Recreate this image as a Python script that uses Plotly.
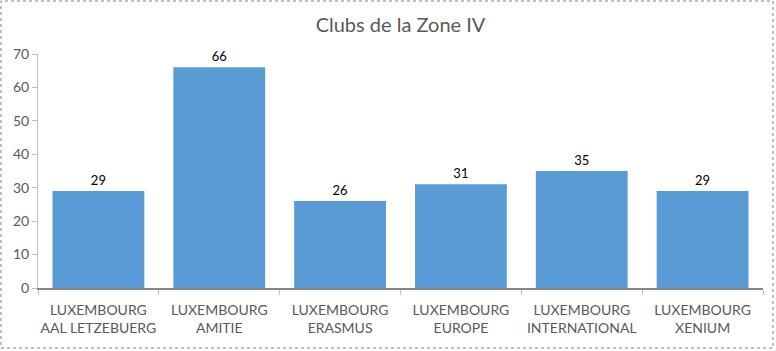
import plotly.graph_objects as go

categories = ["LUXEMBOURG<br>AAL LETZEBUERG", "LUXEMBOURG<br>AMITIE", "LUXEMBOURG<br>ERASMUS",
              "LUXEMBOURG<br>EUROPE", "LUXEMBOURG<br>INTERNATIONAL", "LUXEMBOURG<br>XENIUM"]
values = [29, 66, 26, 31, 35, 29]
title = "Clubs de la Zone IV"

W, H = 776, 351
ml, mr, mt, mb = 38, 13, 54, 63
pw, ph = W - ml - mr, H - mt - mb

fig = go.Figure(go.Bar(
    x=categories, y=values, marker=dict(color="#5B9BD5", line=dict(width=0)),
    text=values, textposition="outside", cliponaxis=False,
    textfont=dict(family="Lato, Open Sans, sans-serif", size=13, color="#000000"),
))

fig.update_layout(
    width=W, height=H, margin=dict(l=ml, r=mr, t=mt, b=mb, autoexpand=False),
    paper_bgcolor="white", plot_bgcolor="white", bargap=0.24, showlegend=False,
    title=dict(text=title, x=0.5, xref="paper", y=1 - 25 / H, yanchor="middle",
               font=dict(family="Lato, Open Sans, sans-serif", size=20, color="#595959")),
    font=dict(family="Lato, Open Sans, sans-serif", color="#595959"),
)
fig.update_xaxes(showline=True, linecolor="#868686", linewidth=1.5, ticks="outside",
                 tickson="boundaries", ticklen=5, tickcolor="#BFBFBF", ticklabelstandoff=8,
                 tickangle=0, automargin=False,
                 tickfont=dict(size=14, color="#595959"), showgrid=False)
fig.update_yaxes(range=[0, 70], dtick=10, showline=True, linecolor="#BFBFBF", linewidth=1,
                 ticks="outside", ticklen=5, tickcolor="#BFBFBF", showgrid=False, zeroline=False,
                 automargin=False, tickfont=dict(size=14, color="#595959"))

# dotted outer border of the chart area
x0 = (1 - ml) / pw
x1 = (W - 3 - ml) / pw
y1 = (mt + ph - 1) / ph
y0 = (mt + ph - (H - 3)) / ph
fig.add_shape(type="rect", xref="paper", yref="paper", x0=x0, x1=x1, y0=y0, y1=y1,
              line=dict(color="#7F7F7F", width=1, dash="dot"), layer="above")

fig.write_html("out.html")
